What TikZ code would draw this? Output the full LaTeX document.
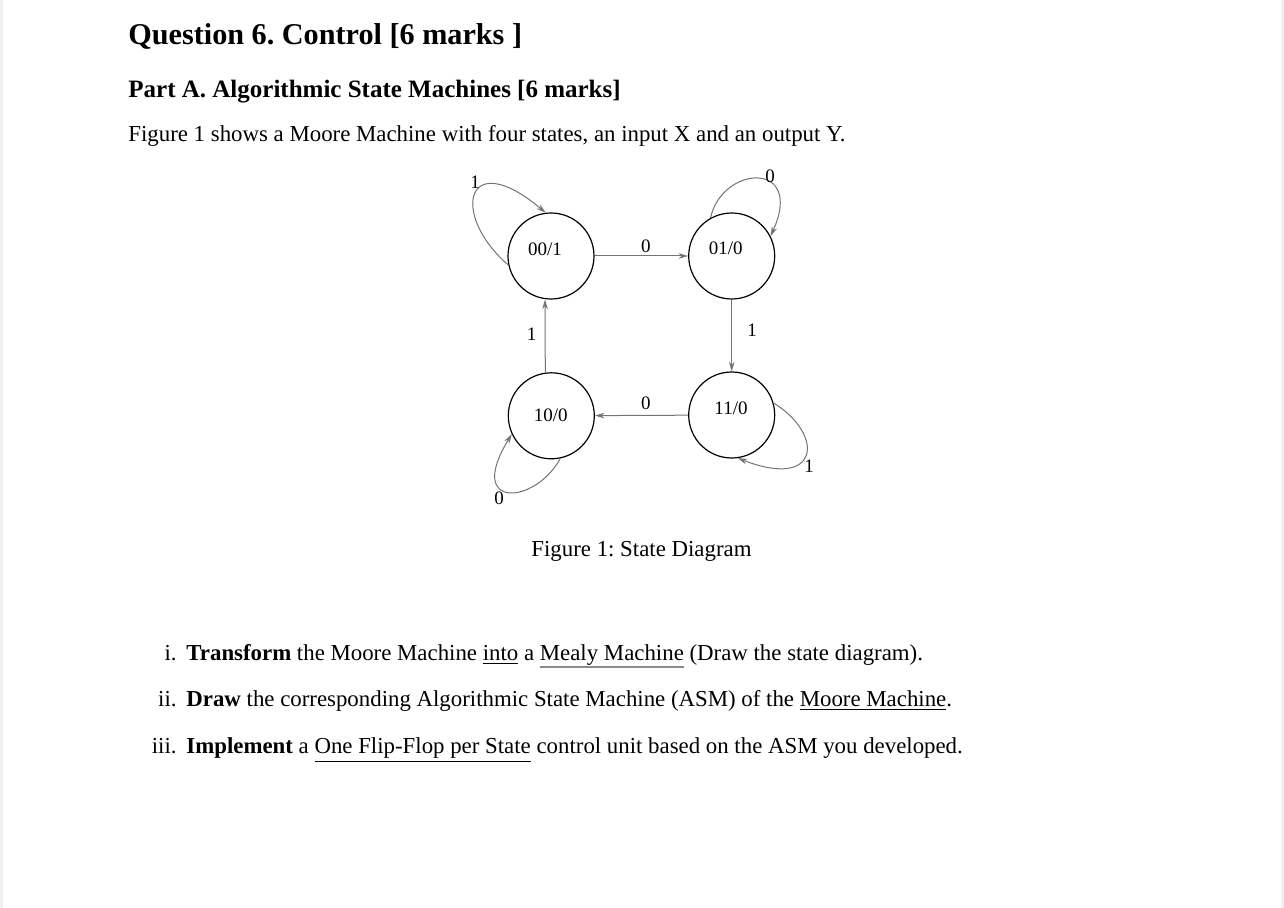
\documentclass[tikz,border=0pt]{standalone}
\usepackage{fontspec}
\setmainfont{Liberation Serif}
\usetikzlibrary{arrows.meta}
\frenchspacing
\newcommand{\grayul}[1]{\setbox0\hbox{#1}\rlap{\color{black!45}\rule[-3.85pt]{\wd0}{0.9pt}}\box0\relax}

\begin{document}
\begin{tikzpicture}[x=0.5pt,y=-0.5pt,
  txt/.style={anchor=base west,inner sep=0pt,font=\fontsize{11.42}{14}\selectfont},
  qhead/.style={anchor=base west,inner sep=0pt,font=\fontsize{15.1}{18}\selectfont\bfseries},
  subhead/.style={anchor=base west,inner sep=0pt,font=\fontsize{12.5}{15}\selectfont\bfseries},
  itemlab/.style={anchor=base east,inner sep=0pt,font=\fontsize{11.42}{14}\selectfont},
  state/.style={draw,circle,line width=0.6pt,minimum size=43pt,inner sep=0pt},
  stname/.style={anchor=base,inner sep=0pt,font=\fontsize{9.5}{11}\selectfont},
  lab/.style={inner sep=0pt,font=\fontsize{9.5}{11}\selectfont},
  trans/.style={draw=black!55,line width=0.5pt,-{Stealth[length=4.8pt,width=2.8pt]}}]

\useasboundingbox (0,0) rectangle (1284,908);
\fill [black!6] (0,0) rectangle (3,908);
\fill [black!6] (1281,0) rectangle (1284,908);

\node (Q) at (128,45) [qhead] {Question 6. Control [6 marks ]};
\node (P) at (128,97.3) [subhead] {Part A. Algorithmic State Machines [6 marks]};
\node (F) at (128,141.7) [txt] {Figure 1 shows a Moore Machine with four states, an input X and an output Y.};

\node (S00) at (551,256) [state] {};
\node (S01) at (731.7,256) [state] {};
\node (S10) at (551.3,415.8) [state] {};
\node (S11) at (731.7,415) [state] {};
\node (T00) at (545,256) [stname] {00/1};
\node (T01) at (725.8,255) [stname] {01/0};
\node (T10) at (550.8,421.7) [stname] {10/0};
\node (T11) at (731,415) [stname] {11/0};

\draw [trans] (S00) -- (S01);
\draw [trans] (S01) -- (S11);
\draw [trans] (S11) -- (S10);
\draw [trans] ([xshift=-3pt]S10.north) -- ([xshift=-3pt]S00.south);

\draw [trans] (S00.192) .. controls (450,215) and (465,145) .. (S00.97);
\draw [trans] (S01.119) .. controls (722,165) and (805,160) .. (S01.27);
\draw [trans] (S11.16) .. controls (825,435) and (820,490) .. (S11.-82);
\draw [trans] (S10.-78) .. controls (535,505) and (465,510) .. (S10.205);

\node (E1) at (645.8,246) [lab] {0};
\node (E2) at (752,330.5) [lab] {1};
\node (E3) at (645.8,403) [lab] {0};
\node (E4) at (531.7,334.3) [lab] {1};
\node (L1) at (475,182.7) [lab] {1};
\node (L2) at (770,176.7) [lab] {0};
\node (L3) at (809,466) [lab] {1};
\node (L4) at (499,498.3) [lab] {0};

\node (C) at (531,556) [txt] {Figure 1: State Diagram};

\node (I1) at (177,660) [itemlab] {i.};
\node (I2) at (177,706.7) [itemlab] {ii.};
\node (I3) at (177,753.3) [itemlab] {iii.};
\node (J1) at (186,660) [txt] {\textbf{Transform} the Moore Machine \underline{into} a \grayul{Mealy Machine} (Draw the state diagram).};
\node (J2) at (186,706.7) [txt] {\textbf{Draw} the corresponding Algorithmic State Machine (ASM) of the \underline{Moore Machine}.};
\node (J3) at (186,753.3) [txt] {\textbf{Implement} a \underline{One Flip-Flop per State} control unit based on the ASM you developed.};

\end{tikzpicture}
\end{document}
